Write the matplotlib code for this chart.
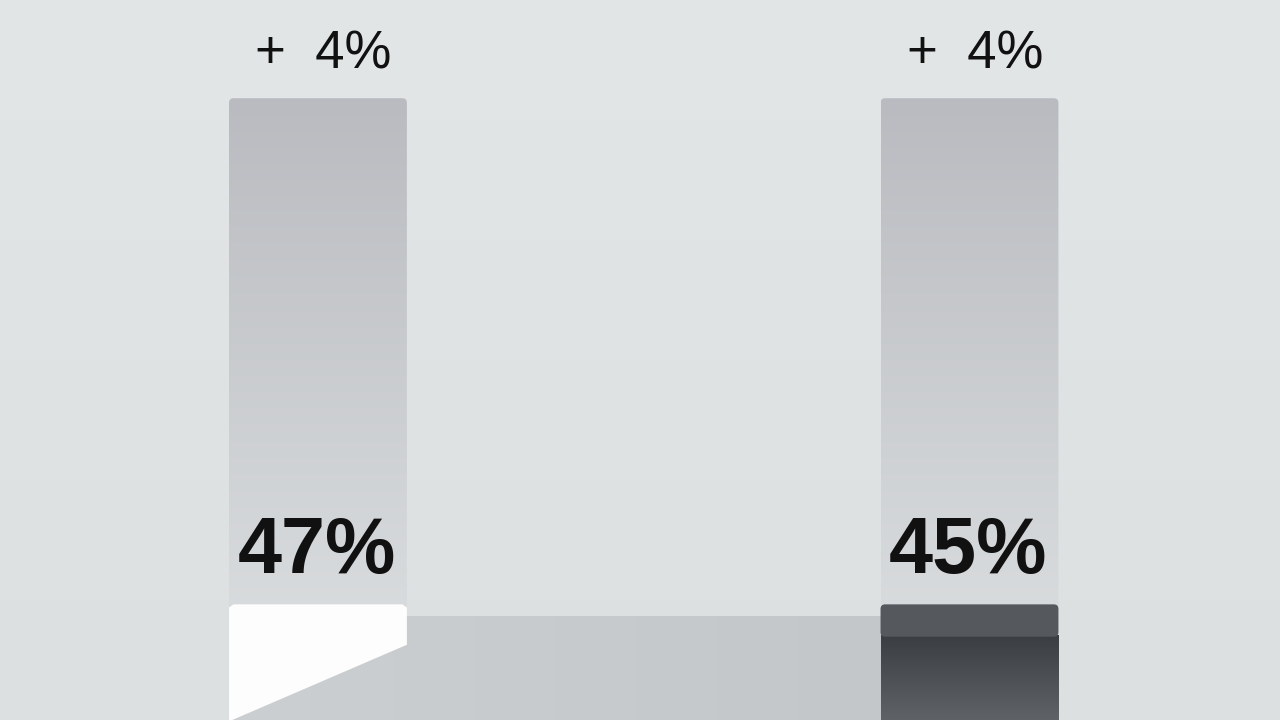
import numpy as np
import matplotlib.pyplot as plt
from matplotlib.patches import FancyBboxPatch, Polygon, Rectangle
from matplotlib.colors import LinearSegmentedColormap

# chart data
categories = ['left', 'right']
values = [47, 45]
changes = [4, 4]

# layout (axis units: x = category index, y = 0..~116)
BAR_W = 0.273
TRACK_TOP = 100.0
FILL_TOP = 18.6
BAND_TOP = 16.7
CAP_BOTTOM = 13.7
DIAG_Y = 12.1
LABEL_Y = 27.0
CHANGE_Y = 107.1
YMAX = 115.8
XMIN, XMAX = -0.488, 1.4766
RX = 0.007                      # corner radius in x units
ASPECT = (100 / 622) / (1 / 651.5)  # y-units per x-unit at equal pixels


def vgrad(ax, x0, x1, y0, y1, c_bot, c_top, clip=None, z=1):
    cmap = LinearSegmentedColormap.from_list('g', [c_bot, c_top])
    arr = np.linspace(0, 1, 256).reshape(-1, 1)
    im = ax.imshow(arr, cmap=cmap, extent=(x0, x1, y0, y1), origin='lower',
                   aspect='auto', zorder=z, interpolation='bicubic')
    if clip is not None:
        im.set_clip_path(clip)
    return im


def hgrad(ax, x0, x1, y0, y1, c_left, c_right, z=1):
    cmap = LinearSegmentedColormap.from_list('h', [c_left, c_right])
    arr = np.linspace(0, 1, 256).reshape(1, -1)
    return ax.imshow(arr, cmap=cmap, extent=(x0, x1, y0, y1), origin='lower',
                     aspect='auto', zorder=z, interpolation='bicubic')


fig = plt.figure(figsize=(12.8, 7.2), dpi=100)
ax = fig.add_axes([0, 0, 1, 1])
ax.axis('off')

# background
vgrad(ax, XMIN, XMAX, 0, YMAX, '#dde0e1', '#e3e6e7', z=0)

x = np.arange(len(categories))

# gray tracks
for xi in x:
    track = FancyBboxPatch((xi - BAR_W / 2, -5), BAR_W, TRACK_TOP + 5,
                           boxstyle=f'round,pad=0,rounding_size={RX}',
                           mutation_aspect=ASPECT, facecolor='none',
                           edgecolor='none', zorder=1)
    ax.add_patch(track)
    vgrad(ax, xi - BAR_W / 2, xi + BAR_W / 2, 0, TRACK_TOP,
          '#dfe2e3', '#b9bbc0', clip=track, z=1)

# band between the bars
hgrad(ax, x[0] - BAR_W / 2, x[1] - BAR_W / 2, 0, BAND_TOP,
      '#cbcfd1', '#c3c7ca', z=2)

# left bar: white fill with diagonal cut
x0, x1 = x[0] - BAR_W / 2, x[0] + BAR_W / 2
white = Polygon([(x0, 0), (x0, FILL_TOP - 0.5), (x0 + RX, FILL_TOP),
                 (x1 - RX, FILL_TOP), (x1, FILL_TOP - 0.5), (x1, DIAG_Y),
                 (x0 + 0.005, 0)], closed=True, facecolor='#fdfdfd',
                edgecolor='none', zorder=3)
ax.add_patch(white)

# right bar: dark body and cap
x0, x1 = x[1] - BAR_W / 2, x[1] + BAR_W / 2
body = Rectangle((x0, -1), BAR_W, CAP_BOTTOM + 1, facecolor='none',
                 edgecolor='none', zorder=3)
ax.add_patch(body)
vgrad(ax, x0, x1, 0, CAP_BOTTOM, '#5f6368', '#3a3d41', clip=body, z=3)
cap = FancyBboxPatch((x0, CAP_BOTTOM - 0.3), BAR_W, FILL_TOP - CAP_BOTTOM + 0.3,
                     boxstyle=f'round,pad=0,rounding_size={RX}',
                     mutation_aspect=ASPECT, facecolor='#55595e',
                     edgecolor='none', zorder=4)
ax.add_patch(cap)

# labels
for xi, v, c in zip(x, values, changes):
    ax.text(xi + 0.008, CHANGE_Y, f'+  {c}%', ha='center', va='center',
            fontsize=38, family='Liberation Sans', color='#111111', zorder=5)
    ax.text(xi - 0.002, LABEL_Y, f'{v}%', ha='center', va='center',
            fontsize=57, fontweight='bold', family='Liberation Sans',
            color='#111111', zorder=5)

ax.set_xlim(XMIN, XMAX)
ax.set_ylim(0, YMAX)
fig.savefig('out.png', dpi=100)
